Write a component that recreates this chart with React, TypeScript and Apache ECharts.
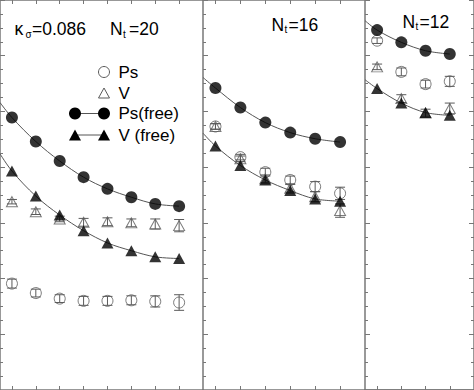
import React, { useEffect, useRef } from "react";
import * as echarts from "echarts";

// ---- data (effective masses vs. t, three lattice sizes) ----
const x20 = [1, 2, 3, 4, 5, 6, 7, 8];
const ps20 = [0.191, 0.174, 0.164, 0.160, 0.160, 0.161, 0.159, 0.157];
const psErr20 = [0.008, 0.007, 0.007, 0.008, 0.008, 0.008, 0.010, 0.014];
const v20 = [0.338, 0.320, 0.307, 0.301, 0.302, 0.300, 0.298, 0.295];
const vErr20 = [0.004, 0.005, 0.005, 0.007, 0.007, 0.007, 0.009, 0.011];
const psFree20 = [0.489, 0.446, 0.411, 0.382, 0.361, 0.346, 0.334, 0.330];
const vFree20 = [0.393, 0.348, 0.314, 0.286, 0.264, 0.250, 0.239, 0.236];
const psFitEdge20 = 0.516;
const vFitEdge20 = 0.424;

const x16 = [1, 2, 3, 4, 5, 6];
const ps16 = [0.473, 0.418, 0.391, 0.377, 0.365, 0.353];
const psErr16 = [0.005, 0.005, 0.007, 0.007, 0.009, 0.011];
const v16 = [0.473, 0.415, 0.379, 0.362, 0.347, 0.322];
const vErr16 = [0.005, 0.005, 0.007, 0.007, 0.009, 0.012];
const psFree16 = [0.542, 0.507, 0.480, 0.462, 0.451, 0.445];
const vFree16 = [0.438, 0.403, 0.377, 0.358, 0.343, 0.339];
const psFitEdge16 = 0.561;
const vFitEdge16 = 0.461;

const x12 = [1, 2, 3, 4];
const ps12 = [0.627, 0.571, 0.549, 0.554];
const psErr12 = [0.005, 0.007, 0.007, 0.009];
const v12 = [0.580, 0.523, 0.497, 0.505];
const vErr12 = [0.005, 0.007, 0.007, 0.010];
const psFree12 = [0.646, 0.624, 0.609, 0.603];
const vFree12 = [0.541, 0.515, 0.498, 0.493];
const psFitEdge12 = 0.663;
const vFitEdge12 = 0.557;

const fitEdgeX = 0.5;
const yMin = 0;
const yMax = 0.7;
const yInterval = 0.1;

const kappaLabel = "=0.086";
const ntLabels = ["=20", "=16", "=12"];
const legendNames = ["Ps", "V", "Ps(free)", "V (free)"];

// ---- styling ----
const AXIS = "#777";
const GRAY = "#5a5a5a";
const LINE = "#555";
const FONT = "'Liberation Sans', Arial, Helvetica, sans-serif";

const panels = [
  { xs: x20, ps: ps20, psErr: psErr20, v: v20, vErr: vErr20, psFree: psFree20, vFree: vFree20, psEdge: psFitEdge20, vEdge: vFitEdge20 },
  { xs: x16, ps: ps16, psErr: psErr16, v: v16, vErr: vErr16, psFree: psFree16, vFree: vFree16, psEdge: psFitEdge16, vEdge: vFitEdge16 },
  { xs: x12, ps: ps12, psErr: psErr12, v: v12, vErr: vErr12, psFree: psFree12, vFree: vFree12, psEdge: psFitEdge12, vEdge: vFitEdge12 },
];

const gridBoxes = [
  { left: -0.5, width: 203.5 },
  { left: 203, width: 162 },
  { left: 365, width: 110 },
];

function errRender(params: any, api: any) {
  const x = api.value(0);
  const y = api.value(1);
  const e = api.value(2);
  const top = api.coord([x, y + e]);
  const bot = api.coord([x, y - e]);
  const st = { stroke: GRAY, lineWidth: 1 };
  return {
    type: "group",
    children: [
      { type: "line", shape: { x1: top[0], y1: top[1], x2: bot[0], y2: bot[1] }, style: st },
      { type: "line", shape: { x1: top[0] - 5, y1: top[1], x2: top[0] + 5, y2: top[1] }, style: st },
      { type: "line", shape: { x1: bot[0] - 5, y1: bot[1], x2: bot[0] + 5, y2: bot[1] }, style: st },
    ],
  };
}

function tri(cx: number, cy: number, w: number, h: number) {
  return [
    [cx, cy - h / 2],
    [cx + w / 2, cy + h / 2],
    [cx - w / 2, cy + h / 2],
  ];
}

function txt(x: number, y: number, text: string, size: number) {
  return {
    type: "text",
    x,
    y,
    silent: true,
    style: {
      text,
      fontSize: size,
      fontFamily: FONT,
      fill: "#000",
      textAlign: "left",
      textVerticalAlign: "middle",
      align: "left",
      verticalAlign: "middle",
    },
  };
}

function buildOption() {
  const grid: any[] = [];
  const xAxis: any[] = [];
  const yAxis: any[] = [];
  const series: any[] = [];

  panels.forEach((p, i) => {
    grid.push({ left: gridBoxes[i].left, width: gridBoxes[i].width, top: -1, height: 392 });
    const n = p.xs.length;
    ["bottom", "top"].forEach((pos) => {
      xAxis.push({
        type: "value",
        gridIndex: i,
        position: pos,
        min: fitEdgeX,
        max: n + 1,
        axisLine: { show: true, lineStyle: { color: AXIS, width: 1.5 } },
        axisTick: { show: true, inside: true, length: 4, customValues: p.xs, lineStyle: { color: AXIS, width: 1 } },
        axisLabel: { show: false, customValues: p.xs },
        splitLine: { show: false },
      });
    });
    const yBase = {
      type: "value",
      gridIndex: i,
      min: yMin,
      max: yMax,
      interval: yInterval,
      axisLine: { show: true, lineStyle: { color: AXIS, width: 1.5 } },
      axisTick: { show: true, inside: true, length: 5, lineStyle: { color: AXIS, width: 1 } },
      minorTick: { show: true, splitNumber: 4, length: 3, lineStyle: { color: AXIS, width: 1 } },
      axisLabel: { show: false },
      splitLine: { show: false },
      minorSplitLine: { show: false },
    };
    yAxis.push({ ...yBase, position: "left" });
  });
  // right-hand axis of the last panel
  yAxis.push({
    type: "value",
    gridIndex: 2,
    position: "right",
    min: yMin,
    max: yMax,
    interval: yInterval,
    axisLine: { show: true, lineStyle: { color: AXIS, width: 1.5 } },
    axisTick: { show: true, inside: true, length: 5, lineStyle: { color: AXIS, width: 1 } },
    minorTick: { show: true, splitNumber: 4, length: 3, lineStyle: { color: AXIS, width: 1 } },
    axisLabel: { show: false },
    splitLine: { show: false },
  });

  panels.forEach((p, i) => {
    const xi = 2 * i;
    const yi = i;
    const common = { xAxisIndex: xi, yAxisIndex: yi, silent: true };
    series.push({
      ...common,
      type: "custom",
      renderItem: errRender,
      encode: { x: 0, y: 1 },
      data: p.xs.map((x, k) => [x, p.ps[k], p.psErr[k]]),
      z: 1,
    });
    series.push({
      ...common,
      type: "custom",
      renderItem: errRender,
      encode: { x: 0, y: 1 },
      data: p.xs.map((x, k) => [x, p.v[k], p.vErr[k]]),
      z: 1,
    });
    series.push({
      ...common,
      type: "scatter",
      name: legendNames[0],
      symbol: "circle",
      symbolSize: 11,
      itemStyle: { color: "rgba(0,0,0,0)", borderColor: GRAY, borderWidth: 1 },
      data: p.xs.map((x, k) => [x, p.ps[k]]),
      z: 2,
    });
    series.push({
      ...common,
      type: "scatter",
      name: legendNames[1],
      symbol: "triangle",
      symbolSize: [11, 10],
      itemStyle: { color: "rgba(0,0,0,0)", borderColor: GRAY, borderWidth: 1 },
      data: p.xs.map((x, k) => [x, p.v[k]]),
      z: 2,
    });
    series.push({
      ...common,
      type: "line",
      smooth: 0.35,
      showSymbol: false,
      symbol: "none",
      lineStyle: { color: LINE, width: 1 },
      data: [[fitEdgeX, p.psEdge], ...p.xs.map((x, k) => [x, p.psFree[k]])],
      z: 3,
    });
    series.push({
      ...common,
      type: "line",
      smooth: 0.35,
      showSymbol: false,
      symbol: "none",
      lineStyle: { color: LINE, width: 1 },
      data: [[fitEdgeX, p.vEdge], ...p.xs.map((x, k) => [x, p.vFree[k]])],
      z: 3,
    });
    series.push({
      ...common,
      type: "scatter",
      name: legendNames[2],
      symbol: "circle",
      symbolSize: 12,
      itemStyle: { color: "#000" },
      data: p.xs.map((x, k) => [x, p.psFree[k]]),
      z: 4,
    });
    series.push({
      ...common,
      type: "scatter",
      name: legendNames[3],
      symbol: "triangle",
      symbolSize: [12, 11],
      itemStyle: { color: "#000" },
      data: p.xs.map((x, k) => [x, p.vFree[k]]),
      z: 4,
    });
  });

  const graphic: any[] = [
    // legend
    { type: "circle", silent: true, shape: { cx: 104, cy: 72, r: 5.5 }, style: { fill: "none", stroke: GRAY, lineWidth: 1 } },
    { type: "polygon", silent: true, shape: { points: tri(104, 93, 11, 10) }, style: { fill: "none", stroke: GRAY, lineWidth: 1 } },
    { type: "line", silent: true, shape: { x1: 75, y1: 113.5, x2: 104, y2: 113.5 }, style: { stroke: LINE, lineWidth: 1 } },
    { type: "circle", silent: true, shape: { cx: 75, cy: 113.5, r: 6 }, style: { fill: "#000" } },
    { type: "circle", silent: true, shape: { cx: 104, cy: 113.5, r: 6 }, style: { fill: "#000" } },
    { type: "line", silent: true, shape: { x1: 75, y1: 135, x2: 104, y2: 135 }, style: { stroke: LINE, lineWidth: 1 } },
    { type: "polygon", silent: true, shape: { points: tri(75, 135, 12, 11) }, style: { fill: "#000" } },
    { type: "polygon", silent: true, shape: { points: tri(104, 135, 12, 11) }, style: { fill: "#000" } },
    txt(118.5, 72, legendNames[0], 17),
    txt(118.5, 93, legendNames[1], 17),
    txt(118.5, 113.5, legendNames[2], 17),
    txt(118.5, 135, legendNames[3], 17),
    // panel labels
    txt(14.5, 29, "κ", 17.5),
    txt(25.5, 34.5, "σ", 10),
    txt(32, 29, kappaLabel, 17.5),
    txt(110, 29, "N", 17.5),
    txt(123, 34, "t", 10),
    txt(129, 29, ntLabels[0], 17.5),
    txt(271.5, 24.5, "N", 17.5),
    txt(284.5, 29.5, "t", 10),
    txt(288.5, 24.5, ntLabels[1], 17.5),
    txt(402.5, 21.5, "N", 17.5),
    txt(415.5, 26.5, "t", 10),
    txt(419.5, 21.5, ntLabels[2], 17.5),
  ];

  return {
    animation: false,
    backgroundColor: "#fff",
    grid,
    xAxis,
    yAxis,
    series,
    graphic,
  };
}

export default function App() {
  const ref = useRef<HTMLDivElement>(null);
  useEffect(() => {
    if (!ref.current) return;
    const chart = echarts.init(ref.current, null, { renderer: "svg" });
    chart.setOption(buildOption() as any);
    return () => chart.dispose();
  }, []);
  return (
    <div
      ref={ref}
      style={{ position: "fixed", left: 0, top: 0, width: 474, height: 390, background: "#fff" }}
    />
  );
}
